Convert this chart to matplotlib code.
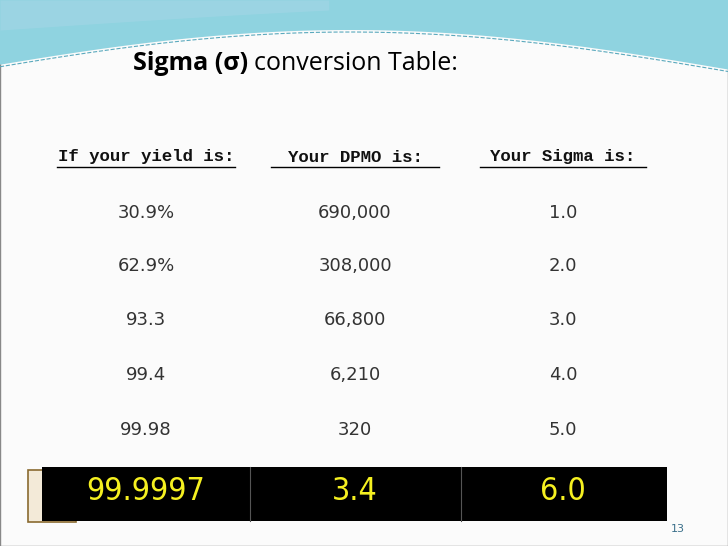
import numpy as np
import matplotlib
matplotlib.use("Agg")
import matplotlib.pyplot as plt
from matplotlib.patches import Rectangle

headers = ["If your yield is:", "Your DPMO is:", "Your Sigma is:"]
yields = ["30.9%", "62.9%", "93.3", "99.4", "99.98"]
dpmo = ["690,000", "308,000", "66,800", "6,210", "320"]
sigmas = ["1.0", "2.0", "3.0", "4.0", "5.0"]
last_row = ["99.9997", "3.4", "6.0"]

W, H = 728, 546
fig = plt.figure(figsize=(W / 100, H / 100), dpi=100)
ax = fig.add_axes([0, 0, 1, 1])
ax.set_xlim(0, W); ax.set_ylim(H, 0)
ax.axis("off")
ax.add_patch(Rectangle((0, 0), W, H, facecolor="#fbfbfb", edgecolor="#888888", lw=1))

# wavy header decoration
x = np.linspace(0, W, 300)
ax.fill_between(x, 0, 75 - 45 * np.sin(np.pi * (x + 60) / 820), color="#8fd3e0", lw=0)
ax.fill_between(x, 0, 30 - 28 * np.sin(np.pi * x / 1300), color="#a4d6e6", lw=0,
                where=x < 330, alpha=0.6)
ax.plot(x, 77 - 45 * np.sin(np.pi * (x + 60) / 820), color="#5aa9bd", lw=0.8, ls="--")

t = ax.text(133, 63, "Sigma (\u03c3)", fontsize=18, fontweight="bold", family="Open Sans",
            ha="left", va="center")
fig.canvas.draw()
bb = t.get_window_extent().transformed(ax.transData.inverted())
ax.text(bb.x1 + 6, 63, "conversion Table:", fontsize=18, family="Open Sans",
        ha="left", va="center")

col_x = [146, 355, 563]
for cx, h in zip(col_x, headers):
    ax.text(cx, 157, h, fontsize=12.5, family="Liberation Mono", fontweight="bold",
            ha="center", va="center", color="#111111")
hw = [178, 168, 166]
for cx, w in zip(col_x, hw):
    ax.plot([cx - w / 2, cx + w / 2], [167, 167], color="black", lw=1)

row_y = [213, 266, 320, 375, 430]
for i, y in enumerate(row_y):
    for cx, val in zip(col_x, [yields[i], dpmo[i], sigmas[i]]):
        ax.text(cx, y, "\u2009".join(val) if False else val, fontsize=13,
                family="DejaVu Sans", ha="center", va="center", color="#333333")

# logo behind last row
ax.add_patch(Rectangle((28, 470), 48, 52, facecolor="#f3ead8", edgecolor="#8a6a30", lw=1.2))
ax.add_patch(Rectangle((42, 467), 625, 54, facecolor="black", edgecolor="none"))
for dx in [250, 461]:
    ax.plot([dx, dx], [467, 521], color="#555555", lw=0.8)
for cx, val in zip([146, 355, 563], last_row):
    ax.text(cx, 491, val, fontsize=23, family="DejaVu Sans", ha="center",
            va="center", color="#f5f020", fontstretch="condensed")
ax.text(678, 529, "13", fontsize=8, color="#3a6f8a", ha="center", va="center")

fig.savefig("out.png", dpi=100)
